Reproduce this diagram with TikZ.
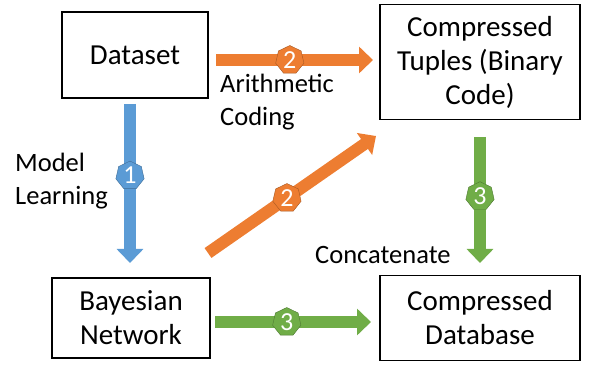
\documentclass[tikz,border=0pt]{standalone}
\usepackage{fontspec}
\setmainfont{Carlito}
\usetikzlibrary{arrows.meta,shapes.geometric}
\definecolor{cblue}{HTML}{5B9BD5}
\definecolor{corange}{HTML}{ED7D31}
\definecolor{cgreen}{HTML}{70AD47}
\tikzset{
  box/.style={draw=black,line width=1.3pt,fill=white,align=center,font=\fontsize{29}{34}\selectfont,inner sep=0pt},
  lab/.style={align=left,font=\fontsize{26.5}{33}\selectfont,inner sep=0pt},
  flow/.style={line width=12pt,-{Triangle[width=26pt,length=14pt]}},
  badge/.style={regular polygon,regular polygon sides=7,fill=#1,draw=#1!70!black,line width=0.4pt,minimum size=29pt,inner sep=0pt,text=white,font=\fontsize{26}{26}\selectfont},
}
\begin{document}
\begin{tikzpicture}[x=1pt,y=-1pt]
\useasboundingbox (0,0) rectangle (595,377);
\node[box,minimum width=146pt,minimum height=86pt] (ds) at (135,55) {Dataset};
\node[box,minimum width=200pt,minimum height=115pt] (ct) at (480,62) {Compressed\\Tuples (Binary\\Code)};
\node[box,minimum width=158pt,minimum height=80pt] (bn) at (131,318) {Bayesian\\Network};
\node[box,minimum width=200pt,minimum height=85pt] (cd) at (480,318) {Compressed\\Database};
\coordinate (a1s) at (130,104); \coordinate (a1e) at (130,263);
\coordinate (a2s) at (216,60); \coordinate (a2e) at (373,60);
\coordinate (a3s) at (208,253); \coordinate (a3e) at (376,136);
\coordinate (a4s) at (480,137); \coordinate (a4e) at (480,263);
\coordinate (a5s) at (215,322); \coordinate (a5e) at (371,322);
\draw[flow,cblue] (a1s) -- (a1e) node[badge=cblue,pos=0.45] (b1) {1};
\draw[flow,corange] (a2s) -- (a2e) node[badge=corange,pos=0.47] (b2) {2};
\draw[flow,corange] (a3s) -- (a3e) node[badge=corange,pos=0.47] (b3) {2};
\draw[flow,cgreen] (a4s) -- (a4e) node[badge=cgreen,pos=0.47] (b4) {3};
\draw[flow,cgreen] (a5s) -- (a5e) node[badge=cgreen,pos=0.46] (b5) {3};
\node[lab,anchor=west] (l1) at (15,181) {Model\\Learning};
\node[lab,anchor=west] (l2) at (220,102) {Arithmetic\\Coding};
\node[lab,anchor=west] (l3) at (315,255) {Concatenate};
\end{tikzpicture}
\end{document}
